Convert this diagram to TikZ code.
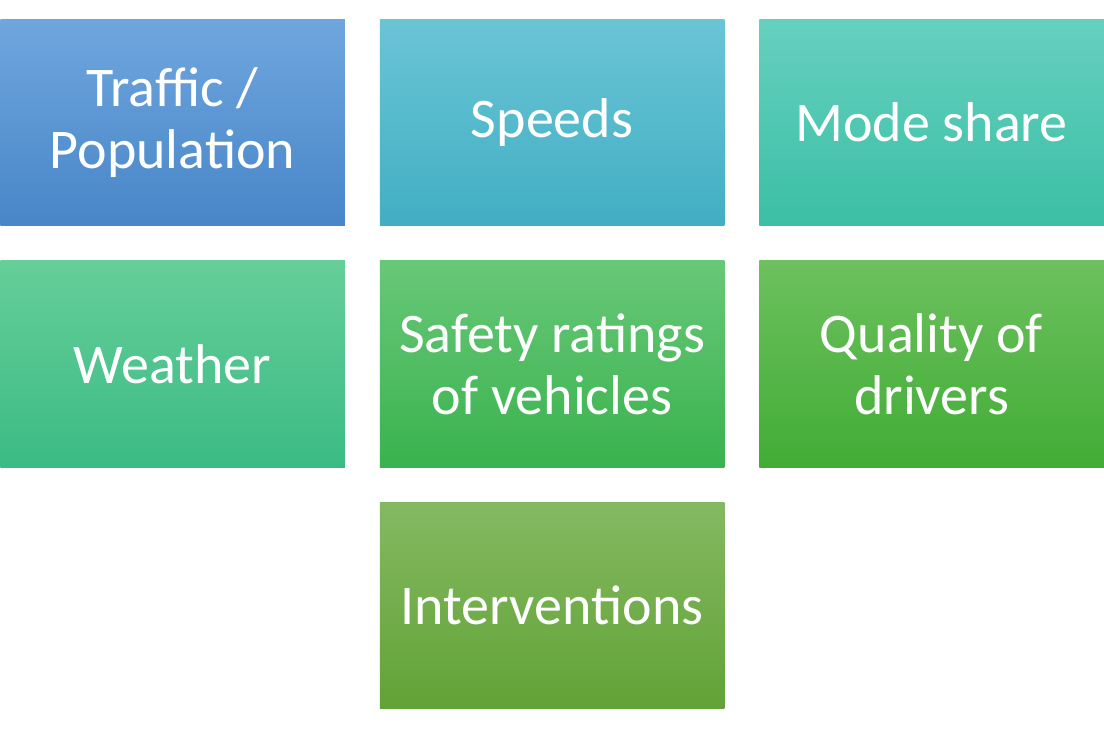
\documentclass[tikz,border=0pt]{standalone}
\usepackage{fontspec}
\setmainfont{Carlito}
\definecolor{aT}{HTML}{6FA6DE}\definecolor{aB}{HTML}{4886C8}
\definecolor{bT}{HTML}{6AC5D6}\definecolor{bB}{HTML}{42AEC3}
\definecolor{cT}{HTML}{66D0BF}\definecolor{cB}{HTML}{3BBFA5}
\definecolor{dT}{HTML}{66CE99}\definecolor{dB}{HTML}{3BBB84}
\definecolor{eT}{HTML}{68C878}\definecolor{eB}{HTML}{3AB24E}
\definecolor{fT}{HTML}{6DC15E}\definecolor{fB}{HTML}{41AC35}
\definecolor{gT}{HTML}{84B962}\definecolor{gB}{HTML}{62A236}
\tikzset{
  tile/.style={minimum width=344.5pt, minimum height=206.5pt, inner sep=0pt, draw=none, anchor=center},
  tiletext/.style={text=white, align=center, font=\fontsize{56}{62}\selectfont, yshift=0pt},
}
\begin{document}
\begin{tikzpicture}[x=1pt,y=1pt]
\useasboundingbox (0,0) rectangle (1104,729);
\node[tile, top color=aT, bottom color=aB, label={[tiletext]center:Traffic /\\Population}] (traffic) at (172.5,606.5) {};
\node[tile, top color=bT, bottom color=bB, label={[tiletext]center:Speeds}] (speeds) at (552,606.5) {};
\node[tile, top color=cT, bottom color=cB, label={[tiletext]center:Mode share}] (mode) at (931.5,606.5) {};
\node[tile, top color=dT, bottom color=dB, label={[tiletext]center:Weather}] (weather) at (172.5,365) {};
\node[tile, top color=eT, bottom color=eB, label={[tiletext]center:Safety ratings\\of vehicles}] (safety) at (552,365) {};
\node[tile, top color=fT, bottom color=fB, label={[tiletext]center:Quality of\\drivers}] (quality) at (931.5,365) {};
\node[tile, top color=gT, bottom color=gB, label={[tiletext]center:Interventions}] (interv) at (552,123.5) {};
\end{tikzpicture}
\end{document}
